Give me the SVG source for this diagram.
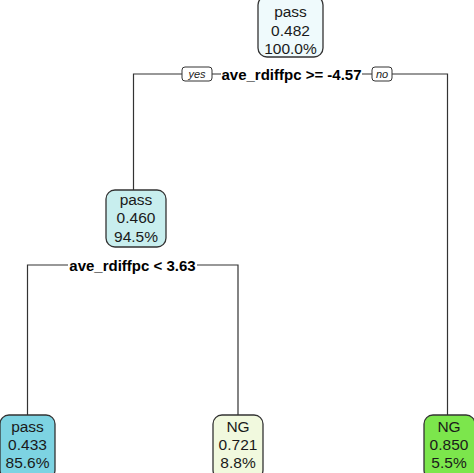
<svg xmlns="http://www.w3.org/2000/svg" width="474" height="473" viewBox="0 0 474 473">
<style>
.bg{fill:#ffffff}
.node rect{stroke:#333333;stroke-width:1.3}
.nt{font-family:"Liberation Sans",Arial,sans-serif;font-size:15.5px;fill:#1a1a1a;text-anchor:middle}
.split{font-family:"Liberation Sans",Arial,sans-serif;font-size:15px;font-weight:bold;fill:#000;text-anchor:middle}
.yn{font-family:"Liberation Sans",Arial,sans-serif;font-size:11px;font-style:italic;fill:#222;text-anchor:middle}
.ynbox{fill:#fff;stroke:#333;stroke-width:1}
.conn line,.conn path{stroke:#333333;stroke-width:1.2;fill:none}
</style>
<rect class="bg" x="0" y="0" width="474" height="473"/>
<g id="connectors" class="conn">
  <path d="M133.5,190 V74 H182 M212,74 H221 M362,74 H372 M392,74 H447.5 V415"/>
  <path d="M27.5,415 V265 H68 M197,265 H238 V415"/>
</g>
<g id="split1">
  <text class="split" x="291.5" y="79.5">ave_rdiffpc &gt;= -4.57</text>
  <rect class="ynbox" x="182" y="67" width="30" height="14" rx="3"/>
  <text class="yn" x="197" y="78">yes</text>
  <rect class="ynbox" x="372" y="67" width="20" height="14" rx="3"/>
  <text class="yn" x="382" y="78">no</text>
</g>
<g id="split2">
  <text class="split" x="132.5" y="270.5">ave_rdiffpc &lt; 3.63</text>
</g>
<g id="node1" class="node">
  <rect x="258" y="-4" width="65" height="61" rx="9" fill="#effafc"/>
  <text class="nt" x="290.5" y="17">pass</text>
  <text class="nt" x="290.5" y="35.5">0.482</text>
  <text class="nt" x="290.5" y="53.5">100.0%</text>
</g>
<g id="node2" class="node">
  <rect x="106" y="190" width="60" height="57" rx="9" fill="#c8eeee"/>
  <text class="nt" x="136" y="205">pass</text>
  <text class="nt" x="136" y="223">0.460</text>
  <text class="nt" x="136" y="242">94.5%</text>
</g>
<g id="node4" class="node">
  <rect x="0" y="415" width="55" height="64" rx="9" fill="#7dd3e2"/>
  <text class="nt" x="27.5" y="431.5">pass</text>
  <text class="nt" x="27.5" y="449.5">0.433</text>
  <text class="nt" x="27.5" y="467.5">85.6%</text>
</g>
<g id="node5" class="node">
  <rect x="213" y="415" width="50" height="64" rx="9" fill="#f1f9de"/>
  <text class="nt" x="238" y="432">NG</text>
  <text class="nt" x="238" y="449.5">0.721</text>
  <text class="nt" x="238" y="467.5">8.8%</text>
</g>
<g id="node3" class="node">
  <rect x="424" y="415" width="51" height="64" rx="9" fill="#7ce64c"/>
  <text class="nt" x="449" y="432">NG</text>
  <text class="nt" x="449" y="449.5">0.850</text>
  <text class="nt" x="449" y="467.5">5.5%</text>
</g>
</svg>
